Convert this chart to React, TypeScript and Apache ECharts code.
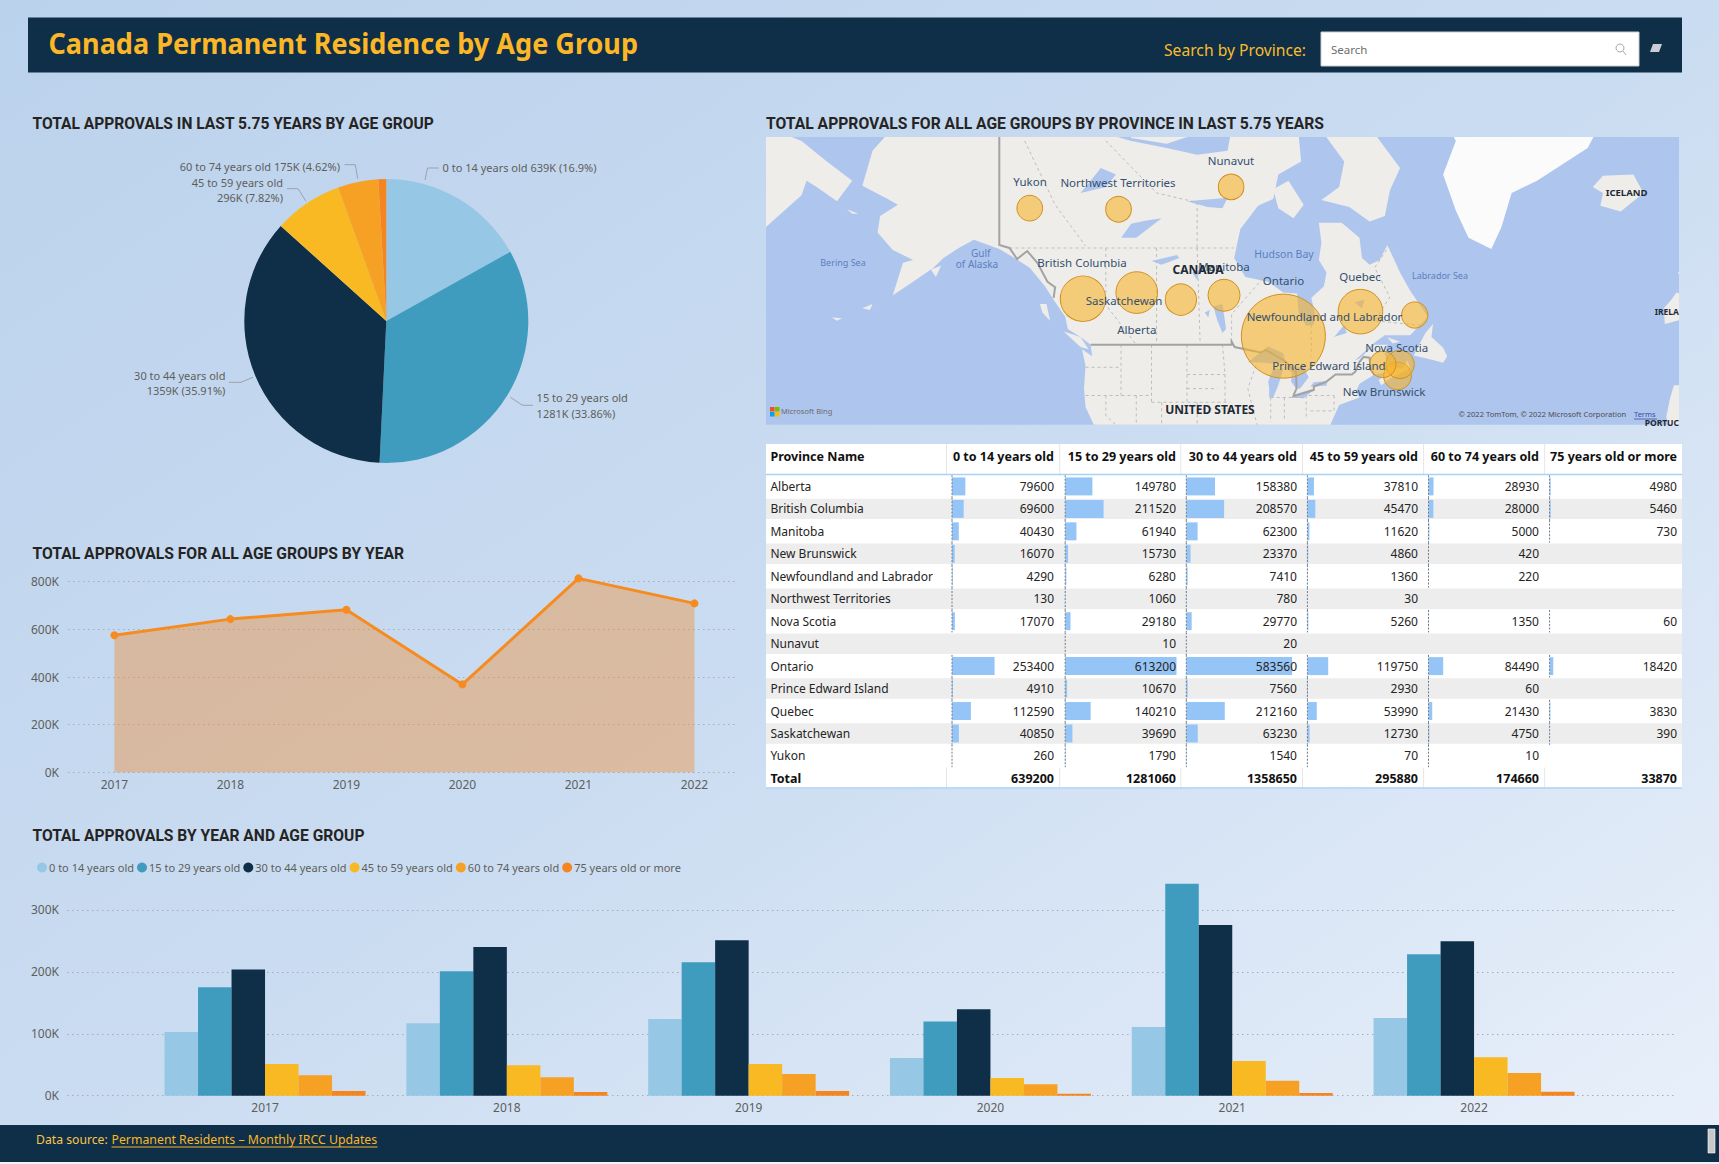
import React, { useEffect, useRef } from "react";
import * as echarts from "echarts";

const NAVY = "#0f2e47";
const GOLD = "#fbb726";
const AGE_GROUPS = ["0 to 14 years old", "15 to 29 years old", "30 to 44 years old", "45 to 59 years old", "60 to 74 years old", "75 years old or more"];
const AGE_COLORS = ["#96c7e4", "#409cbe", "#0f2e47", "#f8b922", "#f6a123", "#f5861f"];
const PROVINCES = ["Alberta", "British Columbia", "Manitoba", "New Brunswick", "Newfoundland and Labrador", "Northwest Territories", "Nova Scotia", "Nunavut", "Ontario", "Prince Edward Island", "Quebec", "Saskatchewan", "Yukon"];
const N = null;
const COL_0_14 = [79600, 69600, 40430, 16070, 4290, 130, 17070, N, 253400, 4910, 112590, 40850, 260];
const COL_15_29 = [149780, 211520, 61940, 15730, 6280, 1060, 29180, 10, 613200, 10670, 140210, 39690, 1790];
const COL_30_44 = [158380, 208570, 62300, 23370, 7410, 780, 29770, 20, 583560, 7560, 212160, 63230, 1540];
const COL_45_59 = [37810, 45470, 11620, 4860, 1360, 30, 5260, N, 119750, 2930, 53990, 12730, 70];
const COL_60_74 = [28930, 28000, 5000, 420, 220, N, 1350, N, 84490, 60, 21430, 4750, 10];
const COL_75 = [4980, 5460, 730, N, N, N, 60, N, 18420, N, 3830, 390, N];
const TABLE_COLS = [COL_0_14, COL_15_29, COL_30_44, COL_45_59, COL_60_74, COL_75];
const TOTALS = [639200, 1281060, 1358650, 295880, 174660, 33870];
const PIE_LABELS = ["0 to 14 years old 639K (16.9%)", "15 to 29 years old\n1281K (33.86%)", "30 to 44 years old\n1359K (35.91%)", "45 to 59 years old\n296K (7.82%)", "60 to 74 years old 175K (4.62%)"];
const YEARS = [2017, 2018, 2019, 2020, 2021, 2022];
const YEAR_TOTALS = [575000, 643000, 682500, 369000, 814000, 709000];
const BY_YEAR = [
  [102900, 116900, 123900, 60900, 111000, 125500],
  [175000, 201000, 215400, 120000, 342500, 228400],
  [204000, 240000, 251000, 139500, 275800, 249400],
  [51000, 49000, 51000, 28500, 56000, 62000],
  [33000, 30000, 35000, 18300, 24200, 36600],
  [7500, 6000, 7500, 3200, 4300, 6500],
];
// Bubble locations on the map, in degrees
const BUBBLE_LON = [-113.9, -124.5, -96.7, -62.5, -59.1, -117.5, -62.0, -95.3, -85.0, -65.4, -69.8, -105.2, -135.0];
const BUBBLE_LAT = [55.3, 54.6, 55.0, 44.8, 52.7, 63.6, 46.4, 65.5, 50.1, 46.4, 53.1, 54.5, 63.7];

type P = number[][];
const LAND: P[] = [
  [[-168,65.6],[-166,68.3],[-163,69.5],[-156.5,71.3],[-141,69.7],[-135,69.3],[-128,70.2],[-125,70],[-115,69],[-108,68.5],[-102,68],[-96,68.3],[-94,72],[-90,69.5],[-85.5,69.5],[-82,69.5],[-81.5,67.5],[-86,66.5],[-87,64.5],[-90,63.9],[-93.5,61.8],[-94.7,59],[-92.5,57],[-88,56.5],[-85,55.3],[-82.3,55.2],[-82,53],[-80.5,51.4],[-79,51.5],[-78.8,53],[-79.5,54.7],[-77,56],[-76.5,57.5],[-78,58.8],[-77.5,60.5],[-78,62.4],[-73.5,62.4],[-70,61],[-69.5,59],[-68,58.3],[-66,58.8],[-64.5,60.3],[-62,57.5],[-60,55.5],[-56.5,52.5],[-58.5,51.2],[-60,50.2],[-65,50.2],[-67,49.3],[-70,47.5],[-71,46.9],[-70,47.2],[-67,49],[-64.5,49],[-65,47.8],[-64.5,46.2],[-61.5,45.8],[-60.5,47],[-60,45.9],[-64,44.4],[-65.7,43.5],[-66.2,44.2],[-64.5,45.3],[-67,45],[-70,43.7],[-70.7,42.5],[-70,41.7],[-74,40.6],[-75.5,38],[-76,37],[-80,32],[-95,29],[-117,32.5],[-120.5,34.5],[-122.5,37.8],[-124,40.3],[-124.3,43],[-124,46.2],[-124.7,48.4],[-122.7,47.5],[-123,49],[-125,50],[-127.5,51],[-128,52.5],[-130.3,54.5],[-132,56],[-135,58],[-138,59],[-141,59.9],[-146,60.8],[-149,60],[-152,59],[-154,58],[-158,56.5],[-162,55],[-160,58.5],[-158,58.8],[-162,59.8],[-165,61.5],[-164.5,63],[-161,64],[-163,64.5]],
  [[-90,73],[-80,74],[-70,71.5],[-67,69.5],[-62,67],[-64,65.2],[-65,63],[-68,62.5],[-72,63.8],[-77.5,64.4],[-74,65.5],[-73,67.5],[-77,69.5],[-82,69.7]],
  [[-87,65.3],[-84,66],[-81,64],[-83,62.8],[-86,63.7]],
  [[-118,72],[-105,72],[-102,69.5],[-108,68.8],[-115,69.2]],
  [[-59.3,47.6],[-57,50.5],[-55.5,51.6],[-55.8,50],[-53.5,48.6],[-52.7,47.5],[-53.5,46.6],[-55.5,47],[-59.3,47.6]],
  [[-128.3,50.7],[-125,50],[-123.4,48.4],[-125,48.7]],
  [[-133,54],[-131.7,54],[-131,52],[-132.5,53]],
  [[-64.5,49.95],[-62,49.4],[-63.5,49.2]],
  [[-187,70],[-180,69],[-175,67.5],[-170,66],[-173,64.3],[-177,65.5],[-179,66],[-180,64.8],[-187,62]],
  [[-171,63.6],[-168.8,63.2],[-170,63.2]],
  [[-154.5,57.8],[-152.5,58.2],[-153.5,57]],
  [[-24,65.5],[-22,66.4],[-16,66.5],[-14,65],[-18.5,63.4],[-22.5,63.9],[-22,65]],
  [[-10,53.5],[-9.8,51.6],[-6.3,52.2],[-6,53.5],[-5.8,55],[-7.5,55.3],[-8.5,54.5]],
  [[-7.2,57.5],[-5,58.6],[-3,58.5],[-3,50.5],[-5.5,50],[-5,52],[-5,55],[-6.5,56.5]],
  [[-9.5,38.8],[-8.8,41.5],[-8,43.5],[-2,43.5],[-2,37],[-9,37]],
  [[-168,53.5],[-166,54],[-166.5,53.3]],
  [[-174,52.4],[-172,52.3],[-173,52]],
];
const GREENLAND: P = [[-54,71],[-51,69],[-53.5,66.5],[-51,63.5],[-48.5,61],[-44,59.9],[-42,62],[-40,65],[-35,66],[-25,68.5],[-22,70.5],[-22,75],[-50,75]];
const LAKES: P[] = [
  [[-92,46.7],[-88,48.8],[-85,47.9],[-84.6,46.6],[-87,46.5],[-90,46.7]],
  [[-87.8,41.7],[-87,41.7],[-86,43.5],[-85,45.8],[-87,45.8],[-88,44],[-87.8,43]],
  [[-84.5,46],[-81,46],[-80,44.6],[-81.7,43],[-82.5,43],[-83.5,44],[-83.3,45.2]],
  [[-83.3,41.7],[-81,41.6],[-79,42.8],[-79.5,42.9],[-83,42.1]],
  [[-79.7,43.3],[-76.5,43.4],[-76.3,44.1],[-79,43.9]],
  [[-98.8,53.7],[-97,54],[-96.3,51],[-97,50.5],[-98,52]],
  [[-117,61],[-114,61],[-109,62.8],[-112,62.6],[-115,62.3]],
  [[-125,65],[-120,65.5],[-118,66.5],[-121,67],[-123,66]],
  [[-111,58.7],[-106,59.3],[-105.5,59],[-109,58.3]],
  [[-103,57.5],[-101.5,57.8],[-102,56.7]],
  [[-100.5,53],[-99.5,53.3],[-99.8,52.4]],
  [[-75,50],[-73,51.5],[-72.5,50.5]],
  [[-71,54.2],[-69,54.5],[-69.5,53.5]],
  [[-104,64.3],[-96,64.6],[-97,63.7],[-100,63.8]],
];
const BORDERS: P[] = [
  [[-123,49],[-95.2,49],[-95.2,49.4],[-94.6,48.7],[-89.5,48],[-88.4,48.3],[-84.8,46.9],[-83.5,46],[-82.5,45.3],[-82.4,43],[-82.9,42.2],[-83,41.9],[-79,42.8],[-79,43.3],[-76.5,44],[-74.7,45],[-71.5,45],[-70.8,45.4],[-70,46.7],[-69.2,47.4],[-68,47.3],[-67.8,45.7],[-67,44.9]],
  [[-141,69.7],[-141,60.3],[-139,60],[-137.5,58.9],[-135.5,59.7],[-133.5,58.5],[-131.5,56.5],[-130,55.9],[-130.3,54.7]],
];
const DASHED: P[] = [
  [[-139,60],[-94.8,60]],[[-120,60],[-120,53.9],[-114,49]],[[-110,60],[-110,49]],[[-102,60],[-101.4,49]],
  [[-95.2,49.4],[-95.2,52.8],[-89,56.9]],[[-136,69],[-130,64],[-124,60.2]],[[-120,69],[-110,65],[-102,64.2],[-102,60]],
  [[-64,60.3],[-67,58],[-64,54.8],[-67,52],[-57.1,51.4]],[[-79.5,51.5],[-79.5,47.5]],
  [[-117,49],[-117,42]],[[-111,49],[-111,41]],[[-104,49],[-104,41]],[[-97,49],[-96.5,45]],[[-124,42],[-111,42]],
  [[-104,45],[-96.5,45]],[[-104,43],[-98,43]],[[-111,41],[-95.5,41]],[[-120,42],[-120,39],[-114.6,35]],[[-114,42],[-114,37]],
  [[-109,41],[-109,37]],[[-102,41],[-102,37]],[[-124,46],[-117,46]],[[-102,40],[-95,40]],[[-114,37],[-90,37]],
  [[-96.5,45],[-96.5,41]],[[-90,47],[-92,43],[-91,40],[-90,37]],[[-87.5,41.7],[-87.5,38]],[[-84.8,41.7],[-84.8,38.5]],[[-87.5,41.7],[-80.5,41.7]],[[-80.5,42],[-80.5,38.5]],[[-80,42],[-75,42]],[[-75,42],[-75,39.7],[-80,39.7]],
];

const merc = (lat: number) => Math.log(Math.tan(Math.PI / 4 + (lat * Math.PI) / 360));
const BODY = "'Noto Sans'";
const ctx = document.createElement("canvas").getContext("2d") as CanvasRenderingContext2D;

function txt(text: string, x: number, y: number, o: any = {}) {
  const { size = 12, weight = "normal", color = "#252423", font = BODY, align = "left", fit } = o;
  let scaleX = o.scaleX ?? 1;
  if (fit) {
    ctx.font = `${weight} ${size}px ${font}`;
    scaleX = fit / ctx.measureText(text).width;
  }
  return { type: "text", x, y, scaleX, z: 100, silent: true, style: { text, x: 0, y: 0, align, verticalAlign: "middle", fill: color, fontFamily: font, fontSize: size, fontWeight: weight } };
}
const rect = (x: number, y: number, width: number, height: number, fill: string, extra: any = {}) => ({ type: "rect", z: 0, silent: true, shape: { x, y, width, height }, style: { fill, ...extra } });
const line = (x1: number, y1: number, x2: number, y2: number, stroke: string, lineWidth = 1, z = 1) => ({ type: "line", z, silent: true, shape: { x1, y1, x2, y2 }, style: { stroke, lineWidth } });

const SECTION = { size: 17, weight: 700, font: "Roboto", color: "#252423" };
const VAL_FONT = { size: 12, font: BODY, color: "#252423" };

// Table geometry
const COL_EDGES = [946.5, 1059.7, 1180.8, 1302.5, 1423.6, 1544.7, 1682];
const BAR_STARTS = [952, 1065.2, 1186.3, 1307.4, 1428.5, 1549.6];
const VAL_RIGHT = [1054, 1176, 1297, 1418, 1539, 1677];
const PX_RATE = [5950, 5509, 5515, 5757, 5750, 5000];
const ROW_TOP = 475.2;
const ROW_H = 22.46;

function tableGraphics() {
  const g: any[] = [];
  g.push(rect(766, 444, 916, 344.5, "#ffffff"));
  PROVINCES.forEach((p, i) => {
    if (i % 2 === 1) g.push(rect(766, ROW_TOP + i * ROW_H + 1, 916, ROW_H - 2, "#ededed"));
    g.push(txt(p, 770.4, ROW_TOP + i * ROW_H + 11.2, { size: 12, fit: undefined, color: "#252423" }));
    TABLE_COLS.forEach((c, k) => {
      if (c[i] != null) g.push(txt(String(c[i]), VAL_RIGHT[k], ROW_TOP + i * ROW_H + 11.2, { ...VAL_FONT, align: "right" }));
    });
  });
  g.push(txt("Province Name", 770.4, 456.7, { size: 12.5, weight: 700, color: "#111" }));
  AGE_GROUPS.forEach((h, k) => g.push(txt(h, VAL_RIGHT[k], 456.7, { size: 12.5, weight: 700, color: "#111", align: "right" })));
  g.push(txt("Total", 770.4, 778.3, { size: 12.5, weight: 700, color: "#111" }));
  TOTALS.forEach((t, k) => g.push(txt(String(t), VAL_RIGHT[k], 778.3, { size: 12.5, weight: 700, color: "#111", align: "right" })));
  COL_EDGES.slice(0, 6).forEach((x) => {
    g.push(line(x, 444, x, 474, "#e6e6e6"));
    g.push(line(x, 767.5, x, 788, "#e6e6e6"));
  });
  g.push(line(766, 474.4, 1682, 474.4, "#a9d1f3", 1.5, 50));
  g.push(line(766, 788, 1682, 788, "#a9d1f3", 1.5, 50));
  return g;
}

function mapLabels() {
  const prov = { size: 11.5, color: "#34506e", align: "center" };
  const sea = { size: 9, color: "#5c80bd", align: "center" };
  const big = { size: 12, weight: 700, color: "#1f2a36", align: "center" };
  const g: any[] = [
    txt("Nunavut", 1231, 160, prov), txt("Yukon", 1030, 181, prov), txt("Northwest Territories", 1118, 182, prov),
    txt("British Columbia", 1082, 262, prov), txt("Manitoba", 1224, 266, prov), txt("Ontario", 1283.5, 280, prov),
    txt("Quebec", 1360, 276, prov), txt("Saskatchewan", 1124, 300, prov), txt("Newfoundland and Labrador", 1324.5, 316, prov),
    txt("Alberta", 1136.8, 329, prov), txt("Nova Scotia", 1396.7, 347, prov), txt("Prince Edward Island", 1329, 365, prov),
    txt("New Brunswick", 1384, 391, prov),
    txt("Gulf", 980.8, 252.7, { ...sea, size: 10 }), txt("of Alaska", 977, 263.7, { ...sea, size: 10 }),
    txt("Bering Sea", 843, 262.7, sea), txt("Hudson Bay", 1284, 253.7, { ...sea, size: 10.5 }), txt("Labrador Sea", 1440, 275.7, sea),
    txt("CANADA", 1198, 269, big), txt("UNITED STATES", 1210, 409.3, big),
    txt("ICELAND", 1626.6, 192, { size: 9.5, weight: 700, color: "#1f2a36", align: "center" }),
    txt("IRELA", 1679, 311, { size: 8.5, weight: 700, color: "#1f2a36", align: "right" }),
    txt("PORTUC", 1679, 422, { size: 8.5, weight: 700, color: "#1f2a36", align: "right" }),
    txt("Microsoft Bing", 781, 411.3, { size: 7.5, color: "#6b6b6b" }),
    txt("© 2022 TomTom, © 2022 Microsoft Corporation", 1458.5, 414, { size: 7.5, color: "#4c4c4c", fit: 168 }),
    txt("Terms", 1634, 414, { size: 7.5, color: "#3c4a9c" }),
    { ...line(1634, 419, 1657, 419, "#3c4a9c", 0.8, 100) },
  ];
  const logo = [["#f25022", 770, 407], ["#7fba00", 775, 407], ["#00a4ef", 770, 412], ["#ffb900", 775, 412]] as any[];
  logo.forEach(([c, x, y]) => g.push({ ...rect(x, y, 4.5, 4.5, c), z: 100 }));
  return g;
}

function buildOption(): any {
  const graphicElements: any[] = [
    rect(28, 17.5, 1654, 55, NAVY),
    txt("Canada Permanent Residence by Age Group", 48.5, 42.5, { size: 29, weight: 700, color: GOLD, fit: 590 }),
    txt("Search by Province:", 1164, 49.5, { size: 16, color: "#f8bd2c", fit: 142 }),
    rect(1321, 32, 318, 34, "#ffffff", { stroke: "#c9ccd1", lineWidth: 1 }),
    txt("Search", 1331, 49.5, { size: 11.5, color: "#6e6e6e" }),
    { type: "circle", z: 100, silent: true, shape: { cx: 1620, cy: 48, r: 4 }, style: { fill: "none", stroke: "#a9a9a9", lineWidth: 1 } },
    line(1623, 51, 1626, 55, "#a9a9a9", 1, 100),
    { type: "polygon", z: 100, silent: true, shape: { points: [[1653, 44], [1662, 44], [1659, 52], [1650, 52]] }, style: { fill: "#c9ced4" } },
    txt("TOTAL APPROVALS IN LAST 5.75 YEARS BY AGE GROUP", 32.5, 123.5, { ...SECTION, fit: 402 }),
    txt("TOTAL APPROVALS FOR ALL AGE GROUPS BY PROVINCE IN LAST 5.75 YEARS", 766, 123.5, { ...SECTION, fit: 559 }),
    txt("TOTAL APPROVALS FOR ALL AGE GROUPS BY YEAR", 32.5, 553.5, { ...SECTION, fit: 372 }),
    txt("TOTAL APPROVALS BY YEAR AND AGE GROUP", 32.5, 835.5, { ...SECTION, fit: 332 }),
    rect(0, 1125, 1719, 37, NAVY),
    rect(0, 1162, 1719, 2, "#f2f2f2"),
    txt("Data source: ", 36, 1139.5, { size: 12.5, color: "#fbc54a", fit: 75 }),
    txt("Permanent Residents – Monthly IRCC Updates", 111.5, 1139.5, { size: 12.5, color: "#fbb726", fit: 266 }),
    line(111.5, 1147, 377.5, 1147, "#fbb726", 1, 100),
    { ...rect(1708, 1129, 7, 24, "#c8c8c8", { stroke: "#ffffff", lineWidth: 0.6 }), z: 100 },
    ...tableGraphics(),
    ...mapLabels(),
  ];

  const grids: any[] = [];
  const xAxes: any[] = [];
  const yAxes: any[] = [];
  const series: any[] = [];
  const dotted = { show: true, lineStyle: { type: [1.5, 3.5], width: 1.2, color: "#a9adb2" } };
  const axisText = { color: "#605e5c", fontFamily: BODY, fontSize: 12 };

  // Map (grid 0)
  grids.push({ left: 766, top: 137, width: 913, height: 287.7, show: true, backgroundColor: "#aec6ee", borderWidth: 0 });
  xAxes.push({ type: "value", gridIndex: 0, min: -187, max: -7, show: false });
  yAxes.push({ type: "value", gridIndex: 0, min: 0.7086, max: 1.699, show: false });
  const shapeSeries = (items: P[], kind: "polygon" | "polyline", style: any) => ({
    type: "custom", xAxisIndex: 0, yAxisIndex: 0, clip: true, silent: true, z: 1,
    data: items.map((_, i) => i),
    renderItem: (params: any, api: any) => ({
      type: kind,
      shape: { points: items[params.dataIndex].map((p) => api.coord([p[0], merc(p[1])])) },
      style,
    }),
  });
  series.push(shapeSeries(LAND, "polygon", { fill: "#efede9" }));
  series.push(shapeSeries([GREENLAND], "polygon", { fill: "#fbfbfb" }));
  series.push(shapeSeries(LAKES, "polygon", { fill: "#aec6ee" }));
  series.push(shapeSeries(DASHED, "polyline", { fill: "none", stroke: "#bdbdbd", lineWidth: 1, lineDash: [3, 3] }));
  series.push(shapeSeries(BORDERS, "polyline", { fill: "none", stroke: "#a3a3a3", lineWidth: 2 }));
  const provinceTotals = PROVINCES.map((_, i) => TABLE_COLS.reduce((s, c) => s + (c[i] ?? 0), 0));
  const maxTotal = Math.max(...provinceTotals);
  series.push({
    type: "scatter", xAxisIndex: 0, yAxisIndex: 0, z: 5, silent: true,
    data: PROVINCES.map((_, i) => [BUBBLE_LON[i], merc(BUBBLE_LAT[i]), provinceTotals[i]]),
    symbolSize: (v: number[]) => 2 * (12.8 + 29.2 * (v[2] / maxTotal)),
    itemStyle: { color: "rgba(247,180,40,0.58)", borderColor: "#d0901f", borderWidth: 1, opacity: 1 },
  });

  // Line chart (grid 1)
  grids.push({ left: 68, top: 569.8, width: 669.7, height: 202.5 });
  xAxes.push({
    type: "value", gridIndex: 1, min: 2016.6, max: 2022.373, splitLine: { show: false }, axisLine: { show: false }, axisTick: { show: false },
    axisLabel: { ...axisText, customValues: YEARS, formatter: (v: number) => String(v), margin: 6 },
  });
  yAxes.push({
    type: "value", gridIndex: 1, min: 0, max: 850000, interval: 200000, axisLine: { show: false }, axisTick: { show: false },
    axisLabel: { ...axisText, showMaxLabel: false, formatter: (v: number) => `${v / 1000}K`, margin: 9 },
    splitLine: { ...dotted, showMaxLine: false },
  });
  series.push({
    type: "line", xAxisIndex: 1, yAxisIndex: 1, name: "Total", data: YEARS.map((y, i) => [y, YEAR_TOTALS[i]]),
    symbol: "circle", symbolSize: 8, lineStyle: { color: "#f68b1f", width: 3 }, itemStyle: { color: "#f68b1f" },
    areaStyle: { color: "#f5861f", opacity: 0.38 },
  });

  // Grouped bars (grid 2)
  grids.push({ left: 67, top: 879, width: 1608, height: 216.7 });
  xAxes.push({
    type: "value", gridIndex: 2, min: 2016.181, max: 2022.831, splitLine: { show: false }, axisLine: { show: false }, axisTick: { show: false },
    axisLabel: { ...axisText, customValues: YEARS, formatter: (v: number) => String(v), margin: 6 },
  });
  yAxes.push({
    type: "value", gridIndex: 2, min: 0, max: 350000, interval: 100000, axisLine: { show: false }, axisTick: { show: false },
    axisLabel: { ...axisText, showMaxLabel: false, formatter: (v: number) => `${v / 1000}K`, margin: 8 },
    splitLine: { ...dotted, showMaxLine: false },
  });
  AGE_GROUPS.forEach((name, k) => {
    series.push({
      type: "bar", name, xAxisIndex: 2, yAxisIndex: 2, barWidth: 33.5, barGap: "0%",
      data: YEARS.map((y, i) => [y, BY_YEAR[k][i]]), itemStyle: { color: AGE_COLORS[k] },
    });
  });

  // Table data bars (grids 3..8)
  TABLE_COLS.forEach((col, k) => {
    const idx = grids.length;
    const width = COL_EDGES[k + 1] - BAR_STARTS[k];
    grids.push({ left: BAR_STARTS[k], top: ROW_TOP, width, height: ROW_H * 13 });
    xAxes.push({ type: "value", gridIndex: idx, min: 0, max: width * PX_RATE[k], show: false });
    yAxes.push({ type: "category", gridIndex: idx, data: PROVINCES, inverse: true, show: false });
    series.push({
      type: "bar", xAxisIndex: idx, yAxisIndex: idx, barWidth: 18, z: 1, silent: true, data: col,
      itemStyle: { color: "#95c5f7" },
    });
    series.push({
      type: "custom", xAxisIndex: idx, yAxisIndex: idx, z: 2, silent: true,
      data: col.map((v, i) => [0, i, v == null ? 0 : 1]),
      renderItem: (_p: any, api: any) => {
        if (!api.value(2)) return null;
        const pt = api.coord([0, api.value(1)]);
        return { type: "line", shape: { x1: pt[0], y1: pt[1] - ROW_H / 2, x2: pt[0], y2: pt[1] + ROW_H / 2 }, style: { stroke: "#6c7c8c", lineWidth: 1, lineDash: [2, 1.5] } };
      },
    });
  });

  // Pie labels
  const LABEL_POS = [
    { x: 442.6, y: 167.7, align: "left", line: [[425, 180], [427.5, 168], [438.7, 168]] },
    { x: 536.6, y: 405.5, align: "left", line: [[510.4, 397.3], [522.5, 405.3], [533, 405.3]] },
    { x: 225.4, y: 383, align: "right", line: [[253, 377.3], [241, 382.3], [228.8, 382.3]] },
    { x: 283, y: 190, align: "right", line: [[305.9, 201], [298, 188.7], [287, 188.7]] },
    { x: 340, y: 166, align: "right", line: [[357.7, 178.7], [355.3, 164.7], [344.6, 164.7]] },
  ];
  series.push({
    type: "pie", center: [386.3, 321], radius: 142, startAngle: 90, clockwise: true, silent: true, avoidLabelOverlap: false,
    data: AGE_GROUPS.map((name, i) => ({
      name, value: TOTALS[i], itemStyle: { color: AGE_COLORS[i] },
      label: i < 5 ? { show: true } : { show: false }, labelLine: { show: i < 5 },
    })),
    label: {
      show: true, position: "outside", color: "#605e5c", fontFamily: BODY, fontSize: 11, lineHeight: 15.5,
      formatter: (p: any) => PIE_LABELS[p.dataIndex] ?? "",
    },
    labelLine: { show: true, lineStyle: { color: "#9ba2aa", width: 1 } },
    labelLayout: (p: any) => {
      const s = LABEL_POS[p.dataIndex];
      if (!s) return {};
      return { x: s.x, y: s.y, align: s.align, verticalAlign: "middle", labelLinePoints: s.line };
    },
  });

  return {
    animation: false,
    backgroundColor: { type: "linear", x: 0, y: 0, x2: 1, y2: 1, colorStops: [{ offset: 0, color: "#bbd2ec" }, { offset: 0.5, color: "#cadcf1" }, { offset: 1, color: "#e9f0fa" }] },
    textStyle: { fontFamily: BODY },
    legend: {
      data: AGE_GROUPS, left: 32, top: 857, icon: "circle", itemWidth: 10, itemHeight: 10, itemGap: 3,
      textStyle: { color: "#605e5c", fontFamily: BODY, fontSize: 11, padding: [0, 0, 0, -3] }, selectedMode: false,
    },
    grid: grids, xAxis: xAxes, yAxis: yAxes, series,
    graphic: { elements: graphicElements },
  };
}

export default function App() {
  const ref = useRef<HTMLDivElement>(null);
  useEffect(() => {
    document.body.style.margin = "0";
    const chart = echarts.init(ref.current as HTMLDivElement, undefined, { renderer: "svg" });
    chart.setOption(buildOption());
    return () => chart.dispose();
  }, []);
  return <div ref={ref} style={{ width: 1719, height: 1164 }} />;
}
